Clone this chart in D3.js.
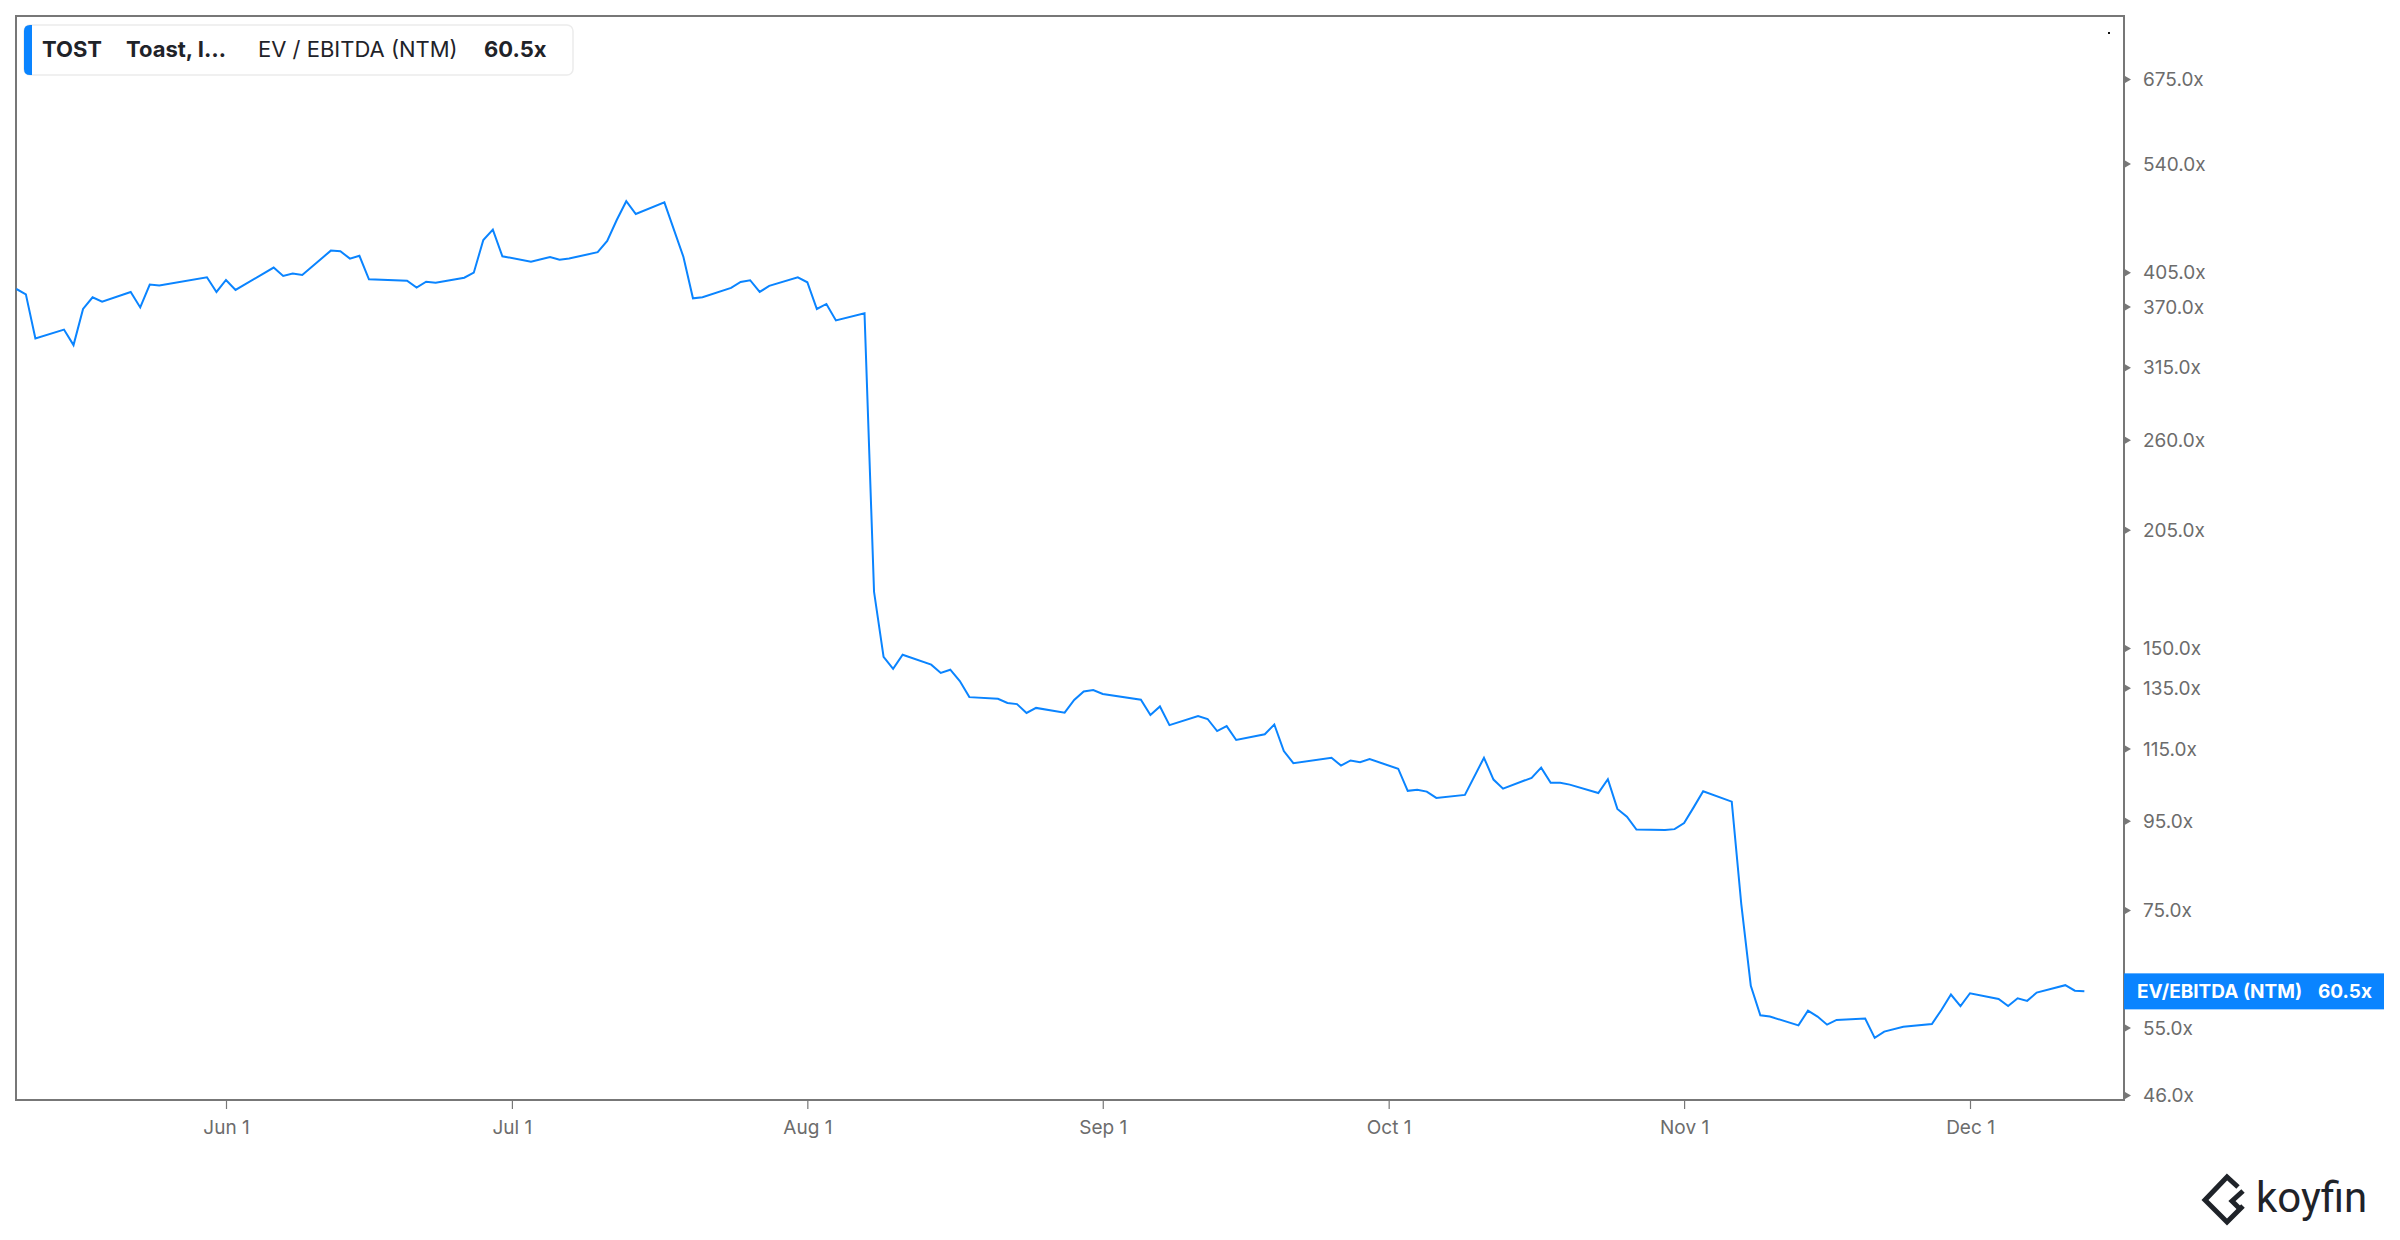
<!DOCTYPE html>
<html>
<head>
<meta charset="utf-8">
<script src="https://cdn.jsdelivr.net/npm/d3@7"></script>
<style>
  html, body { margin: 0; padding: 0; background: #ffffff; }
  svg { display: block; font-family: Inter, Roboto, "Noto Sans", Arial, sans-serif; }
</style>
</head>
<body>
<svg id="chart" width="2400" height="1240"></svg>
<script>
// ---------- DATA ----------
const dates = [
  "2023-05-10","2023-05-11","2023-05-12","2023-05-15","2023-05-16","2023-05-17","2023-05-18","2023-05-19",
  "2023-05-22","2023-05-23","2023-05-24","2023-05-25","2023-05-30","2023-05-31","2023-06-01","2023-06-02",
  "2023-06-06","2023-06-07","2023-06-08","2023-06-09","2023-06-12","2023-06-13","2023-06-14","2023-06-15",
  "2023-06-16","2023-06-20","2023-06-21","2023-06-22","2023-06-23","2023-06-26","2023-06-27","2023-06-28",
  "2023-06-29","2023-06-30","2023-07-03","2023-07-05","2023-07-06","2023-07-07","2023-07-10","2023-07-11",
  "2023-07-12","2023-07-13","2023-07-14","2023-07-17","2023-07-19","2023-07-20","2023-07-21","2023-07-24",
  "2023-07-25","2023-07-26","2023-07-27","2023-07-28","2023-07-31","2023-08-01","2023-08-02","2023-08-03",
  "2023-08-04","2023-08-07","2023-08-08","2023-08-09","2023-08-10","2023-08-11","2023-08-14","2023-08-15",
  "2023-08-16","2023-08-17","2023-08-18","2023-08-21","2023-08-22","2023-08-23","2023-08-24","2023-08-25",
  "2023-08-28","2023-08-29","2023-08-30","2023-08-31","2023-09-01","2023-09-05","2023-09-06","2023-09-07",
  "2023-09-08","2023-09-11","2023-09-12","2023-09-13","2023-09-14","2023-09-15","2023-09-18","2023-09-19",
  "2023-09-20","2023-09-21","2023-09-25","2023-09-26","2023-09-27","2023-09-28","2023-09-29","2023-10-02",
  "2023-10-03","2023-10-04","2023-10-05","2023-10-06","2023-10-09","2023-10-11","2023-10-12","2023-10-13",
  "2023-10-16","2023-10-17","2023-10-18","2023-10-19","2023-10-20","2023-10-23","2023-10-24","2023-10-25",
  "2023-10-26","2023-10-27","2023-10-30","2023-10-31","2023-11-01","2023-11-02","2023-11-03","2023-11-06",
  "2023-11-07","2023-11-08","2023-11-09","2023-11-10","2023-11-13","2023-11-14","2023-11-15","2023-11-16",
  "2023-11-17","2023-11-20","2023-11-21","2023-11-22","2023-11-24","2023-11-27","2023-11-28","2023-11-29",
  "2023-11-30","2023-12-01","2023-12-04","2023-12-05","2023-12-06","2023-12-07","2023-12-08","2023-12-11",
  "2023-12-12","2023-12-13"
];
const evEbitda = [
  387.5,382.0,340.0,348.0,334.0,367.5,379.0,374.6,
  384.4,369.0,392.0,391.0,399.6,384.4,396.8,386.5,
  410.0,401.0,403.5,402.0,428.8,428.2,419.8,423.0,
  397.5,396.0,388.8,395.0,394.0,399.2,404.5,441.0,
  453.2,422.4,416.5,421.7,418.6,420.0,427.0,439.9,
  465.0,488.6,472.4,487.2,421.7,378.0,379.0,388.5,
  394.7,396.5,384.4,390.6,399.6,394.4,367.5,372.4,
  356.5,363.4,174.0,146.5,141.9,147.3,143.5,140.4,
  141.6,137.4,131.7,131.1,129.7,129.3,126.3,128.0,
  126.4,130.7,133.7,134.2,132.8,130.8,125.6,128.5,
  122.3,125.3,124.3,120.4,122.0,117.6,119.4,122.5,
  114.2,110.6,112.2,109.9,111.4,110.9,111.8,109.0,
  102.8,103.1,102.6,100.9,101.7,112.2,105.9,103.4,
  106.4,109.3,105.0,105.0,104.5,102.2,106.0,98.0,
  96.0,92.8,92.7,92.9,94.4,98.4,102.7,99.9,
  76.2,61.4,56.8,56.6,55.3,57.5,56.6,55.4,
  56.1,56.3,53.5,54.4,55.1,55.5,57.6,60.0,
  58.2,60.2,59.3,58.2,59.4,59.0,60.3,61.5,
  60.6,60.5
];
const yTickValues = [675, 540, 405, 370, 315, 260, 205, 150, 135, 115, 95, 75, 55, 46];
const xTickDates = ["2023-06-01","2023-07-01","2023-08-01","2023-09-01","2023-10-01","2023-11-01","2023-12-01"];
const legendTicker = "TOST";
const legendName = "Toast, I\u2026";
const legendMetric = "EV / EBITDA (NTM)";
const badgeLabel = "EV/EBITDA (NTM)";
const brandName = "koyfin";

// ---------- LAYOUT ----------
const plot = { left: 16, right: 2124, top: 16, bottom: 1100 };
const lineColor = "#0a84ff";
const axisColor = "#777777";
const labelColor = "#6c6c6c";
const textDark = "#1f2329";

const parse = d3.timeParse("%Y-%m-%d");
const series = dates.map((d, i) => ({ date: parse(d), value: evEbitda[i] }));

const svg = d3.select("#chart");

// x scale: calibrated by month ticks
const x = d3.scaleTime()
  .domain([parse("2023-06-01"), parse("2023-12-01")])
  .range([226, 1970]);

// y scale: logarithmic
const y = d3.scaleLog()
  .domain([46, 675])
  .range([1095, 79]);

// clip for line
svg.append("defs").append("clipPath").attr("id", "clip")
  .append("rect")
  .attr("x", plot.left).attr("y", plot.top)
  .attr("width", plot.right - plot.left).attr("height", plot.bottom - plot.top);

// frame
svg.append("rect")
  .attr("x", plot.left).attr("y", plot.top)
  .attr("width", plot.right - plot.left).attr("height", plot.bottom - plot.top)
  .attr("fill", "none").attr("stroke", axisColor).attr("stroke-width", 2);

// tiny mark at top right
svg.append("rect").attr("x", 2108).attr("y", 32).attr("width", 2).attr("height", 2).attr("fill", "#111");

// line
const line = d3.line().x(d => x(d.date)).y(d => y(d.value));
svg.append("path")
  .datum(series)
  .attr("clip-path", "url(#clip)")
  .attr("fill", "none")
  .attr("stroke", lineColor)
  .attr("stroke-width", 2)
  .attr("stroke-linejoin", "miter")
  .attr("d", line);

// x axis
const xAxis = d3.axisBottom(x)
  .tickValues(xTickDates.map(parse))
  .tickFormat(d3.timeFormat("%b %-d"))
  .tickSize(9)
  .tickSizeOuter(0);
const gx = svg.append("g")
  .attr("transform", `translate(0,${plot.bottom})`)
  .call(xAxis);
gx.select(".domain").remove();
gx.selectAll(".tick line").attr("stroke", axisColor).attr("stroke-width", 1.2);
gx.selectAll(".tick text")
  .attr("fill", labelColor)
  .attr("font-size", 19)
  .attr("font-family", "Inter, Roboto, sans-serif")
  .attr("y", 27)
  .attr("dy", "0.35em");

// y axis (right)
const yAxis = d3.axisRight(y)
  .tickValues(yTickValues)
  .tickFormat(v => d3.format(".1f")(v) + "x")
  .tickSize(0)
  .tickSizeOuter(0);
const gy = svg.append("g")
  .attr("transform", `translate(${plot.right},0)`)
  .call(yAxis);
gy.select(".domain").remove();
gy.selectAll(".tick text")
  .attr("fill", labelColor)
  .attr("font-size", 19)
  .attr("font-family", "Inter, Roboto, sans-serif")
  .attr("x", 19)
  .attr("dy", "0.35em");
gy.selectAll(".tick").append("path")
  .attr("d", "M1,-3.5 L7,0 L1,3.5 Z")
  .attr("fill", axisColor);

// last-value badge
const last = series[series.length - 1];
const by = y(last.value);
const badge = svg.append("g");
badge.append("rect")
  .attr("x", plot.right).attr("y", by - 18)
  .attr("width", 260).attr("height", 36)
  .attr("fill", lineColor);
badge.append("text")
  .attr("x", plot.right + 13).attr("y", by).attr("dy", "0.35em")
  .attr("fill", "#fff").attr("font-size", 19).attr("font-weight", 700)
  .text(badgeLabel);
badge.append("text")
  .attr("x", plot.right + 248).attr("y", by).attr("dy", "0.35em")
  .attr("text-anchor", "end")
  .attr("fill", "#fff").attr("font-size", 19).attr("font-weight", 700)
  .text(d3.format(".1f")(last.value) + "x");

// legend
const lg = svg.append("g");
lg.append("rect")
  .attr("x", 24).attr("y", 25).attr("width", 549).attr("height", 50)
  .attr("rx", 6).attr("fill", "#fff").attr("stroke", "#ececec").attr("stroke-width", 1.5);
lg.append("path")
  .attr("d", "M32,25 L30,25 Q24,25 24,31 L24,69 Q24,75 30,75 L32,75 Z")
  .attr("fill", lineColor);
const legendFont = 22;
lg.append("text").attr("x", 42).attr("y", 57).attr("font-size", legendFont).attr("font-weight", 700)
  .attr("fill", textDark).text(legendTicker);
lg.append("text").attr("x", 126).attr("y", 57).attr("font-size", legendFont).attr("font-weight", 700)
  .attr("fill", textDark).text(legendName);
lg.append("text").attr("x", 258).attr("y", 57).attr("font-size", legendFont).attr("font-weight", 400)
  .attr("fill", textDark).text(legendMetric);
lg.append("text").attr("x", 484).attr("y", 57).attr("font-size", legendFont).attr("font-weight", 700)
  .attr("fill", textDark).text(d3.format(".1f")(last.value) + "x");

// brand logo
const brand = svg.append("g");
brand.append("path")
  .attr("d", "M2238,1187 L2227,1177 L2205,1200 L2227,1222 L2243,1206")
  .attr("fill", "none").attr("stroke", textDark).attr("stroke-width", 5).attr("stroke-linejoin", "miter");
brand.append("path")
  .attr("d", "M2243,1191 L2232,1201 L2239,1208")
  .attr("fill", "none").attr("stroke", textDark).attr("stroke-width", 5).attr("stroke-linejoin", "miter");
brand.append("text")
  .attr("x", 2256).attr("y", 1212)
  .attr("font-size", 42).attr("font-weight", 400)
  .attr("font-family", "Roboto, sans-serif")
  .attr("fill", textDark)
  .text(brandName);
</script>
</body>
</html>
